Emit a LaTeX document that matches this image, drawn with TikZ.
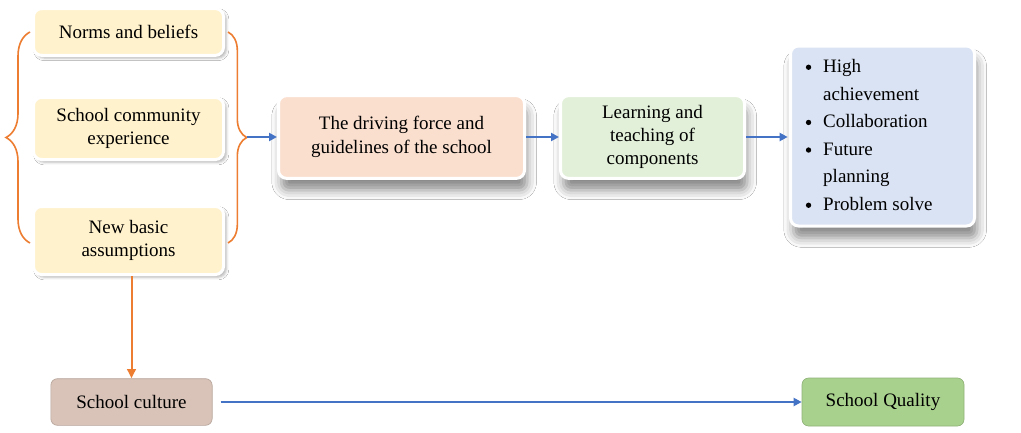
\documentclass[tikz,border=0pt]{standalone}
\usepackage{fontspec}
\setmainfont{Liberation Serif}
\usetikzlibrary{arrows.meta,shadows.blur,decorations.pathreplacing}

\definecolor{creamfill}{HTML}{FFF2CC}
\definecolor{pinkfill}{HTML}{FADFCF}
\definecolor{greenfill}{HTML}{E2F0D9}
\definecolor{bluefill}{HTML}{DAE3F3}
\definecolor{culturefill}{HTML}{D9C3B8}
\definecolor{qualityfill}{HTML}{A9D18E}
\definecolor{linkorange}{HTML}{ED7D31}
\definecolor{linkblue}{HTML}{4472C4}

\newcommand{\bigdot}{\raisebox{0.3ex}{\tikz\fill (0,0) circle (2pt);}}

\tikzset{
  box/.style={rectangle, rounded corners=6pt, draw=white, line width=2.25pt,
    align=center, inner sep=2pt, font=\fontsize{14.25}{17.5}\selectfont},
  smallshadow/.style={blur shadow={shadow xshift=2pt, shadow yshift=-2pt,
    shadow blur radius=2pt, shadow opacity=30}},
  bigshadow/.style={blur shadow={shadow xshift=2pt, shadow yshift=-9pt,
    shadow blur radius=7pt, shadow opacity=45}},
  smallbox/.style={rectangle, rounded corners=5pt, draw=#1!85!black, line width=0.5pt,
    fill=#1, align=center, font=\fontsize{14.25}{17.5}\selectfont},
  bluearrow/.style={draw=linkblue, line width=1.5pt, -{Triangle[length=6pt, width=6pt]}},
  orangearrow/.style={draw=linkorange, line width=1.5pt, -{Triangle[length=7pt, width=6.5pt]}},
  bracket/.style={draw=linkorange, line width=1.2pt, decorate}
}

\begin{document}
\begin{tikzpicture}[x=0.75pt, y=-0.75pt]
\useasboundingbox[fill=white] (0,0) rectangle (1021,432);

% the three parts of culture
\node[box, fill=creamfill, minimum width=142.5pt, minimum height=35pt, smallshadow] (norms) at (128.5,32) {Norms and beliefs};
\node[box, fill=creamfill, minimum width=142.5pt, minimum height=46.5pt, smallshadow] (community) at (128.5,128.5) {School community\\experience};
\node[box, fill=creamfill, minimum width=142.5pt, minimum height=51pt, smallshadow] (newbasic) at (128.5,240.5) {New basic\\assumptions};

% braces
\draw[bracket, decoration={brace, amplitude=18pt}] (30,243) -- (30,32);
\draw[bracket, decoration={brace, amplitude=14pt}] (228,32) -- (228,243);
\coordinate (rtip) at (247,137);

% main chain
\node[box, fill=pinkfill, minimum width=184.5pt, minimum height=62pt, bigshadow] (driving) at (401.5,137) {The driving force and\\guidelines of the school};
\node[box, fill=greenfill, minimum width=138pt, minimum height=62pt, bigshadow] (learning) at (652.5,137) {Learning and\\teaching of\\components};
\node[box, fill=bluefill, minimum width=138pt, minimum height=135pt, bigshadow,
  font=\fontsize{14.25}{20.7}\selectfont] (outcomes) at (882.5,136)
  {\begin{tabular}{@{}c@{\hspace{9pt}}l@{}}
   \bigdot & High\\
           & achievement\\
   \bigdot & Collaboration\\
   \bigdot & Future\\
           & planning\\
   \bigdot & Problem solve
   \end{tabular}\hspace*{20pt}};

% bottom row
\node[smallbox=culturefill, minimum width=121pt, minimum height=35pt] (culture) at (131.5,402) {School culture};
\node[smallbox=qualityfill, minimum width=121.5pt, minimum height=36pt] (quality) at (883,402) {School Quality};

% links
\draw[bluearrow] (rtip) -- (driving.west);
\draw[bluearrow] (driving.east) -- (learning.west);
\draw[bluearrow, shorten >=1pt] (learning.east) -- (learning.east -| outcomes.west);
\draw[orangearrow] (culture.north |- newbasic.south) -- (culture.north);
\draw[bluearrow, shorten <=6pt] (culture.east) -- (quality.west);
\end{tikzpicture}
\end{document}
